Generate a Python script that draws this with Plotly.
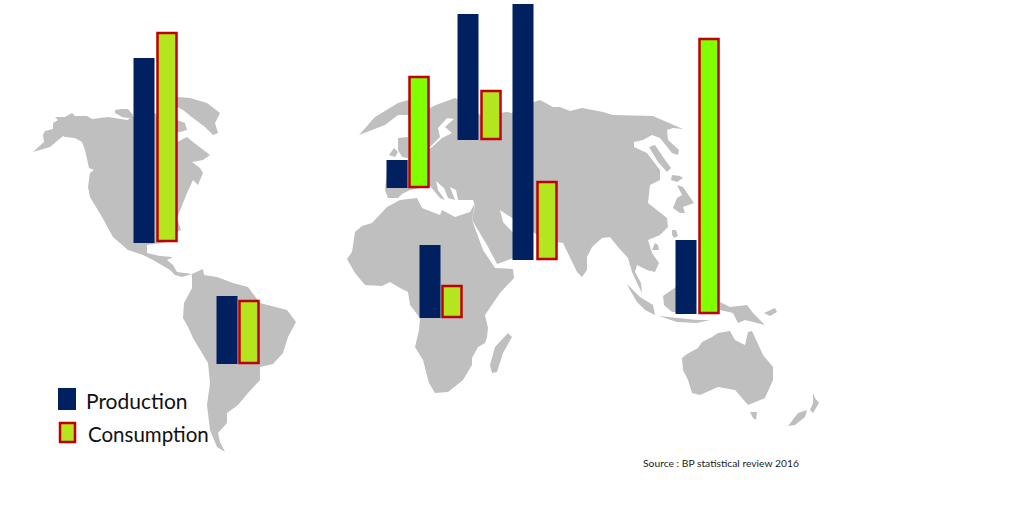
import plotly.graph_objects as go

regions = ["North America", "South America", "Europe", "Eurasia", "Middle East", "Africa", "Asia Pacific"]

# bar heights
production = [185, 68, 28, 126, 256, 73, 74]
consumption = [208, 62, 110, 48, 77, 31, 274]

# where each pair stands on the map
prod_left = [134, 217, 387, 458, 513, 420, 676]
prod_top = [58, 296, 160, 14, 4, 245, 240]
cons_left = [158, 240, 410, 482, 538, 443, 700]
cons_top = [33, 301, 77, 91, 182, 286, 39]
cons_colors = ["#b5e61d", "#b5e61d", "#7fff00", "#b5e61d", "#b5e61d", "#b5e61d", "#7fff00"]
bar_w = 20

GREY = "#bfbfbf"
NAVY = "#002060"
RED = "#c00000"

# map outlines
north_america = [(33, 152), (44, 142), (43, 135), (45, 131), (53, 129), (53, 123), (58, 120),
                 (55, 117), (65, 117), (72, 113), (75, 116), (87, 116), (92, 119), (108, 117), (127, 120), (133, 117),
                 (155, 113), (175, 142), (177, 142), (187, 137), (193, 142), (210, 155), (203, 160), (192, 162),
                 (200, 168), (203, 173), (198, 185), (193, 180), (187, 193), (180, 210), (177, 218), (181, 230),
                 (177, 232), (167, 242), (147, 245), (147, 253), (160, 256), (173, 257), (167, 260), (173, 265),
                 (177, 272), (192, 274), (182, 277), (175, 275), (170, 270), (153, 260), (143, 255),
                 (128, 250), (120, 243), (113, 237), (102, 217), (90, 197), (88, 187), (90, 173), (94, 170),
                 (89, 168), (85, 150), (82, 142), (75, 138), (65, 137), (63, 136), (50, 147)]
baffin = [(177, 97), (190, 98), (207, 103), (220, 113), (215, 123), (218, 133), (213, 135), (205, 127), (193, 118),
          (183, 110), (177, 107)]
hudson_island = [(177, 120), (185, 123), (187, 130), (180, 132), (177, 132)]
arctic_island = [(115, 110), (122, 109), (128, 109), (133, 115), (133, 119), (122, 117), (115, 113)]
south_america = [(192, 274), (203, 269), (204, 275), (217, 277), (233, 283), (248, 287), (260, 303), (287, 310), (296, 322),
                 (288, 337), (283, 353), (273, 364), (260, 367), (260, 380), (248, 393), (238, 405), (227, 413),
                 (227, 423), (218, 433), (220, 442), (225, 452), (217, 447), (210, 430), (207, 405), (210, 383),
                 (208, 363), (193, 338), (188, 327), (183, 318), (184, 303), (192, 288)]
eurasia = [(359, 135), (375, 117), (398, 103), (408, 100), (430, 108), (436, 105), (455, 98), (470, 105), (480, 115),
           (502, 113), (507, 112), (512, 113), (520, 105), (534, 102), (540, 100), (553, 107), (560, 107), (570, 111),
           (582, 108), (603, 112), (613, 115), (653, 116), (667, 122), (683, 129), (673, 128), (667, 130), (668, 140),
           (679, 150), (678, 155), (672, 153), (660, 138), (652, 135), (643, 140), (634, 142), (634, 147), (647, 153),
           (660, 170), (660, 180), (650, 185), (648, 203), (667, 218), (668, 227), (660, 235), (648, 240), (652, 253),
           (659, 263), (655, 272), (647, 270), (637, 265), (635, 272), (641, 283), (642, 293), (638, 285), (632, 272),
           (628, 258), (618, 247), (610, 237), (602, 238), (592, 247), (587, 257), (587, 270), (582, 277), (577, 272),
           (563, 243), (545, 240), (525, 227), (500, 210), (503, 222), (512, 232), (520, 240), (525, 255), (513, 258),
           (497, 264), (487, 245), (472, 220), (475, 205), (473, 200), (458, 200), (456, 190), (450, 187), (455, 200),
           (448, 198), (444, 188), (436, 181), (438, 190), (445, 200), (440, 198), (430, 186), (410, 190), (402, 194),
           (398, 198), (388, 198), (385, 190), (387, 170), (408, 160), (425, 152), (432, 147), (442, 138), (452, 133),
           (445, 127), (454, 119), (447, 118), (438, 128), (440, 137), (430, 147), (415, 145), (408, 115), (398, 115),
           (385, 125), (362, 134)]
britain = [(398, 138), (408, 137), (408, 158), (402, 157), (398, 150)]
ireland = [(389, 155), (394, 148), (398, 152), (395, 157)]
africa = [(472, 220), (483, 250), (495, 268), (513, 269), (514, 278), (500, 293), (485, 315), (488, 328), (487, 337),
          (485, 343), (478, 347), (472, 358), (472, 365), (463, 380), (448, 392), (435, 393), (429, 383), (423, 360),
          (415, 347), (419, 330), (420, 318), (410, 305), (408, 292), (400, 288), (390, 282), (382, 286), (365, 285),
          (355, 273), (347, 259), (352, 252), (355, 232), (362, 226), (372, 223), (387, 207), (400, 200), (417, 198),
          (422, 208), (440, 215), (442, 210), (455, 217), (470, 212), (475, 203)]
madagascar = [(508, 333), (512, 337), (503, 353), (497, 372), (492, 373), (490, 365), (495, 347)]
korea = [(649, 147), (655, 145), (663, 157), (671, 168), (667, 172), (658, 162)]
hokkaido = [(672, 175), (680, 176), (683, 178), (677, 182), (671, 180)]
honshu = [(677, 185), (683, 187), (694, 203), (683, 207), (685, 213), (680, 213), (673, 208), (677, 198), (682, 195)]
taiwan = [(672, 230), (676, 230), (678, 236), (674, 238), (672, 235)]
hainan = [(652, 250), (655, 243), (658, 245), (659, 250)]
sumatra = [(627, 284), (640, 297), (653, 305), (655, 315), (645, 310), (637, 302), (630, 290)]
borneo = [(676, 287), (663, 296), (664, 305), (672, 312), (690, 312), (690, 287)]
java = [(659, 316), (677, 318), (697, 320), (710, 320), (697, 323), (677, 322)]
new_guinea = [(720, 302), (730, 307), (747, 305), (753, 313), (765, 325), (757, 323), (745, 320), (738, 323), (733, 313), (720, 310)]
new_britain = [(764, 313), (775, 308), (777, 312), (770, 316)]
australia = [(682, 358), (687, 354), (698, 348), (702, 342), (712, 337), (718, 333), (730, 331), (735, 340), (745, 345),
             (748, 332), (752, 331), (757, 342), (763, 355), (773, 367), (773, 380), (765, 398), (748, 405), (742, 398),
             (735, 390), (718, 387), (700, 395), (692, 393), (688, 380), (683, 370)]
tasmania = [(750, 412), (757, 412), (756, 420), (753, 418)]
nz_south = [(788, 426), (798, 413), (807, 410), (805, 417), (795, 425)]
nz_north = [(813, 393), (815, 398), (819, 403), (813, 413), (810, 410), (813, 403)]

land = [north_america, baffin, hudson_island, arctic_island, south_america, eurasia, britain, ireland, africa,
        madagascar, korea, hokkaido, honshu, taiwan, hainan, sumatra, borneo, java, new_guinea, new_britain,
        australia, tasmania, nz_south, nz_north]

fig = go.Figure()

# map goes on the base axes, the bars on overlaid ones so they sit on top of it
for outline in land:
    xs = [p[0] for p in outline] + [outline[0][0]]
    ys = [p[1] for p in outline] + [outline[0][1]]
    fig.add_trace(go.Scatter(x=xs, y=ys, mode="lines", fill="toself", fillcolor=GREY,
                             line=dict(width=0, color=GREY), hoverinfo="skip", showlegend=False))

fig.add_trace(go.Bar(x=[v + bar_w / 2 for v in prod_left], y=production, base=prod_top, width=bar_w + 1,
                     marker=dict(color=NAVY, line=dict(width=0)), name="Production",
                     customdata=regions, hovertemplate="%{customdata}: %{y}<extra></extra>",
                     xaxis="x2", yaxis="y2", showlegend=False))
fig.add_trace(go.Bar(x=[v + bar_w / 2 - 1 for v in cons_left], y=consumption, base=cons_top, width=bar_w - 1,
                     marker=dict(color=cons_colors, line=dict(width=2.5, color=RED)), name="Consumption",
                     customdata=regions, hovertemplate="%{customdata}: %{y}<extra></extra>",
                     xaxis="x2", yaxis="y2", showlegend=False))

# legend is drawn by hand, it stands inside the map in the original
fig.add_shape(type="rect", x0=58, x1=76, y0=388, y1=410, fillcolor=NAVY, line=dict(width=0))
fig.add_shape(type="rect", x0=60, x1=75, y0=423, y1=442, fillcolor="#b5e61d", line=dict(width=2.5, color=RED))

fig.add_annotation(x=84, y=400, text="Production", showarrow=False, xanchor="left", yanchor="middle",
                   font=dict(family="Lato", size=21, color="#111111"))
fig.add_annotation(x=86, y=434, text="Consumption", showarrow=False, xanchor="left", yanchor="middle",
                   font=dict(family="Lato", size=20.5, color="#111111"))
fig.add_annotation(x=641, y=463, text="Source : BP statistical review 2016", showarrow=False, xanchor="left",
                   yanchor="middle", font=dict(family="Lato", size=10.3, color="#222222"))

hidden = dict(visible=False, showgrid=False, zeroline=False, fixedrange=True)
fig.update_layout(
    width=1034,
    height=515,
    margin=dict(l=0, r=0, t=0, b=0),
    paper_bgcolor="white",
    plot_bgcolor="white",
    barmode="overlay",
    xaxis=dict(range=[0, 1034], **hidden),
    yaxis=dict(range=[515, 0], **hidden),
    xaxis2=dict(range=[0, 1034], overlaying="x", **hidden),
    yaxis2=dict(range=[515, 0], overlaying="y", **hidden),
)

fig.write_html("out.html", config={"displayModeBar": False},
               post_script="document.body.style.margin = '0';")
